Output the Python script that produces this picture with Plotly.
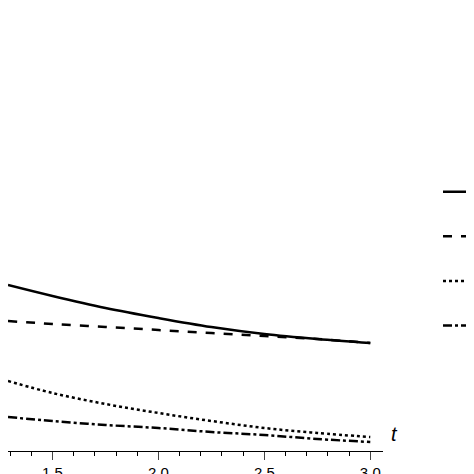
import plotly.graph_objects as go

t = [1.29, 1.5, 1.75, 2.0, 2.25, 2.5, 2.75, 3.0]
solid = [1.66, 1.55, 1.43, 1.33, 1.24, 1.17, 1.12, 1.08]
dashed = [1.30, 1.27, 1.24, 1.21, 1.18, 1.15, 1.12, 1.08]
dotted = [0.70, 0.58, 0.47, 0.38, 0.30, 0.23, 0.18, 0.14]
dashdot = [0.34, 0.30, 0.26, 0.23, 0.19, 0.16, 0.12, 0.09]

fig = go.Figure()
for y, dash in [(solid, "solid"), (dashed, "dash"), (dotted, "dot"), (dashdot, "dashdot")]:
    fig.add_trace(go.Scatter(x=t, y=y, mode="lines", name=" ",
                             line=dict(color="black", width=2.5, dash=dash, shape="spline")))

fig.update_layout(
    width=474, height=474, plot_bgcolor="white", paper_bgcolor="white",
    margin=dict(l=0, r=99, t=0, b=31),
    font=dict(family="Liberation Sans", size=15, color="black"),
    xaxis=dict(range=[1.29, 3.06], tickvals=[1.5, 2.0, 2.5, 3.0], ticktext=["1.5", "2.0", "2.5", "3.0"],
               ticks="outside", ticklen=8, tickwidth=1, showline=True, linecolor="black", showgrid=False,
               zeroline=False, minor=dict(dtick=0.1, ticks="outside", ticklen=4, tickcolor="black")),
    yaxis=dict(range=[0, 4.43], visible=False),
    legend=dict(x=430 / 474, y=0.67, xref="container", yref="container", xanchor="left", yanchor="top",
                font=dict(size=32), itemwidth=30, tracegroupgap=0, bgcolor="rgba(0,0,0,0)"),
    annotations=[dict(text="<i>t</i>", x=1.045, y=0.01, xref="paper", yref="paper",
                      showarrow=False, font=dict(size=20))],
)
fig.write_html("out.html")
